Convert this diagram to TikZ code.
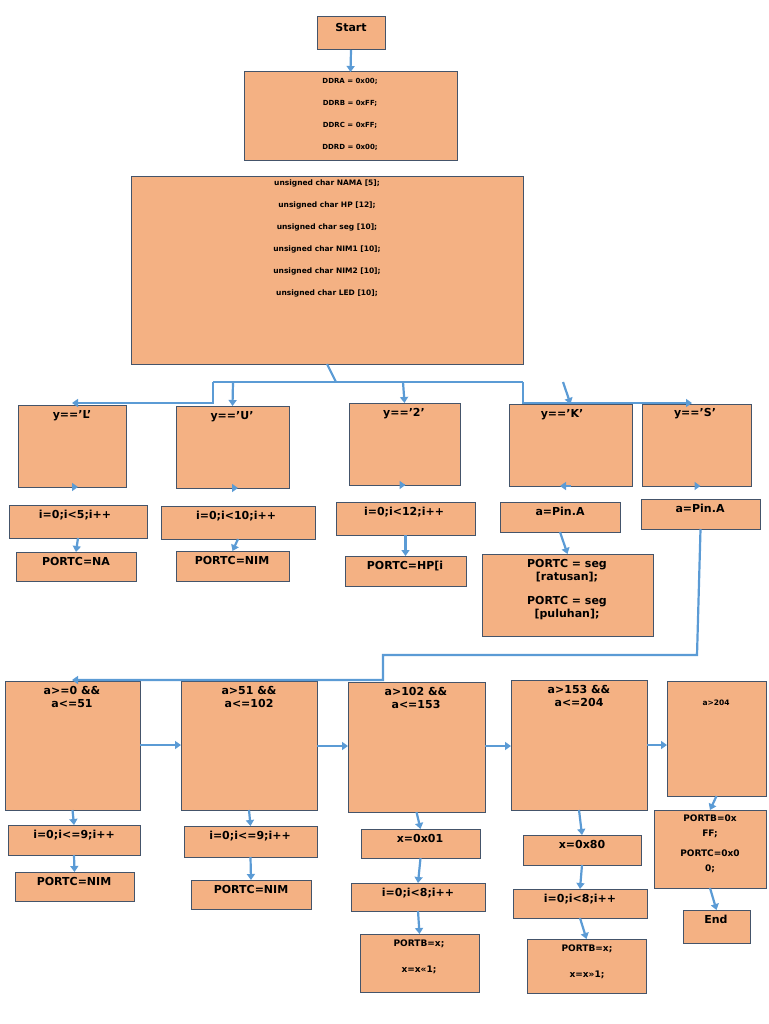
\documentclass[tikz,border=0pt]{standalone}
\usepackage{fontspec}
\setmainfont{DejaVu Sans}
\usetikzlibrary{arrows.meta}
\definecolor{fillc}{HTML}{F4B183}
\definecolor{edgec}{HTML}{44546A}
\definecolor{arr}{HTML}{5B9BD5}
\begin{document}
\begin{tikzpicture}[x=1pt,y=-1pt,
  box/.style={draw=edgec,fill=fillc,line width=1pt,inner sep=0pt},
  txt/.style={font=\bfseries\fontsize{11}{13}\selectfont,align=center,anchor=north,inner sep=0pt},
  sml/.style={font=\bfseries\fontsize{7.5}{9}\selectfont,align=center,anchor=north,inner sep=0pt},
  ar/.style={draw=arr,line width=2.2pt,-{Triangle[length=6pt,width=8pt]}},
  ln/.style={draw=arr,line width=2.2pt}]
\useasboundingbox (0,0) rectangle (768,1024);
\newcommand{\bx}[6]{\path[box] (#2,#3) rectangle (#4,#5); \coordinate (#1n) at ({(#2+#4)/2},#3); \coordinate (#1s) at ({(#2+#4)/2},#5); \coordinate (#1w) at (#2,{(#3+#5)/2}); \coordinate (#1e) at (#4,{(#3+#5)/2}); #6}
% top
\bx{st}{317}{17}{385}{50}{\node[txt] (stt) at (351,23) {Start};}
\bx{dd}{244}{72}{457}{161}{\node[sml,font=\bfseries\fontsize{7}{22}\selectfont] (ddt) at (350,78) {DDRA = 0x00;\\DDRB = 0xFF;\\DDRC = 0xFF;\\DDRD = 0x00;};}
\bx{un}{131}{177}{523}{364}{\node[sml,font=\bfseries\fontsize{7.5}{22}\selectfont] (unt) at (327,180) {unsigned char NAMA [5];\\unsigned char HP [12];\\unsigned char seg [10];\\unsigned char NIM1 [10];\\unsigned char NIM2 [10];\\unsigned char LED [10];};}
\draw[ar] (sts) -- (ddn);
% row 1
\bx{L}{18}{405}{126}{487}{\node[txt] (Lt) at (72,410) {y=='L'};}
\bx{U}{176}{406}{289}{488}{\node[txt] (Ut) at (232,411) {y=='U'};}
\bx{T}{349}{403}{460}{485}{\node[txt] (Tt) at (404,408) {y=='2'};}
\bx{K}{509}{404}{632}{486}{\node[txt] (Kt) at (562,409) {y=='K'};}
\bx{S}{642}{404}{751}{486}{\node[txt] (St) at (695,408) {y=='S'};}
\coordinate (j0) at (336,382); \coordinate (jl) at (213,382); \coordinate (jr) at (523,382);
\coordinate (jl2) at (213,403); \coordinate (jr2) at (523,403);
\coordinate (La) at (72,403); \coordinate (Sa) at (692,403);
\coordinate (ju) at (233,382); \coordinate (jt) at (403,382); \coordinate (jk) at (563,382);
\draw[ln] (uns) -- (j0); \draw[ln] (jl) -- (jr);
\draw[ar] (jl) -- (jl2) -- (La);
\draw[ar] (jr) -- (jr2) -- (Sa);
\draw[ar] (ju) -- (Un); \draw[ar] (jt) -- (Tn); \draw[ar] (jk) -- (Kn);
% row 2
\bx{L2}{9}{505}{147}{538}{\node[txt] at (75,510) {i=0;i<5;i++};}
\bx{U2}{161}{506}{315}{539}{\node[txt] at (236,511) {i=0;i<10;i++};}
\bx{T2}{336}{502}{475}{535}{\node[txt] at (404,507) {i=0;i<12;i++};}
\bx{K2}{500}{502}{620}{532}{\node[txt] at (560,507) {a=Pin.A};}
\bx{S2}{641}{499}{760}{529}{\node[txt] at (700,504) {a=Pin.A};}
\draw[ar] (Ls) -- (L2n|-Ls); \draw[ar] (Us) -- (U2n|-Us);
\draw[ar] (Ts) -- (T2n|-Ts); \draw[ar] (Ks) -- (K2n|-Ks); \draw[ar] (Ss) -- (S2n|-Ss);
% row 3
\bx{L3}{16}{552}{136}{581}{\node[txt] at (76,557) {PORTC=NA};}
\bx{U3}{176}{551}{289}{581}{\node[txt] at (232,556) {PORTC=NIM};}
\bx{T3}{345}{556}{466}{586}{\node[txt] at (405,561) {PORTC=HP[i};}
\bx{K3}{482}{554}{653}{636}{\node[txt,font=\bfseries\fontsize{11}{24}\selectfont] at (567,559) {PORTC = seg\\[-11pt][ratusan];\\PORTC = seg\\[-11pt][puluhan];};}
\draw[ar] (L2s) -- (L3n); \draw[ar] (U2s) -- (U3n); \draw[ar] (T2s) -- (T3n); \draw[ar] (K2s) -- (K3n);
% bottom row
\bx{B1}{5}{681}{140}{810}{\node[txt] at (72,686) {a>=0 \&\&\\a<=51};}
\bx{B2}{181}{681}{317}{810}{\node[txt] at (249,686) {a>51 \&\&\\a<=102};}
\bx{B3}{348}{682}{485}{812}{\node[txt] at (416,687) {a>102 \&\&\\a<=153};}
\bx{B4}{511}{680}{647}{810}{\node[txt] at (579,685) {a>153 \&\&\\a<=204};}
\bx{B5}{667}{681}{766}{796}{\node[sml] at (716,700) {a>204};}
\coordinate (p1) at (697,655); \coordinate (p2) at (383,655); \coordinate (p3) at (383,680); \coordinate (p4) at (72,680);
\draw[ar] (S2s) -- (p1) -- (p2) -- (p3) -- (p4);
\draw[ar] (140,745) -- (B2w|-0,745);
\draw[ar] (317,746) -- (B3w|-0,746);
\draw[ar] (485,746) -- (B4w|-0,746);
\draw[ar] (647,745) -- (B5w|-0,745);
% under bottom
\bx{C1}{8}{825}{140}{855}{\node[txt] at (74,830) {i=0;i<=9;i++};}
\bx{D1}{15}{872}{134}{901}{\node[txt] at (74,877) {PORTC=NIM};}
\bx{C2}{184}{826}{317}{857}{\node[txt] at (250,831) {i=0;i<=9;i++};}
\bx{D2}{191}{880}{311}{909}{\node[txt] at (251,885) {PORTC=NIM};}
\bx{C3}{361}{829}{480}{858}{\node[txt] at (420,834) {x=0x01};}
\bx{D3}{351}{883}{485}{911}{\node[txt] at (418,888) {i=0;i<8;i++};}
\bx{E3}{360}{934}{479}{992}{\node[sml,font=\bfseries\fontsize{9}{26}\selectfont] at (419,940) {PORTB=x;\\x=x<<1;};}
\bx{C4}{523}{835}{641}{865}{\node[txt] at (582,840) {x=0x80};}
\bx{D4}{513}{889}{647}{918}{\node[txt] at (580,894) {i=0;i<8;i++};}
\bx{E4}{527}{939}{646}{993}{\node[sml,font=\bfseries\fontsize{9}{26}\selectfont] at (587,945) {PORTB=x;\\x=x>>1;};}
\bx{C5}{654}{810}{766}{888}{\node[sml,font=\bfseries\fontsize{9}{15}\selectfont] at (710,815) {PORTB=0x\\FF;\\[5pt]PORTC=0x0\\0;};}
\bx{D5}{683}{910}{750}{943}{\node[txt] at (716,915) {End};}
\draw[ar] (B1s) -- (C1n); \draw[ar] (C1s) -- (D1n);
\draw[ar] (B2s) -- (C2n); \draw[ar] (C2s) -- (D2n);
\draw[ar] (B3s) -- (C3n); \draw[ar] (C3s) -- (D3n); \draw[ar] (D3s) -- (E3n);
\draw[ar] (B4s) -- (C4n); \draw[ar] (C4s) -- (D4n); \draw[ar] (D4s) -- (E4n);
\draw[ar] (B5s) -- (C5n); \draw[ar] (C5s) -- (D5n);
\end{tikzpicture}
\end{document}
